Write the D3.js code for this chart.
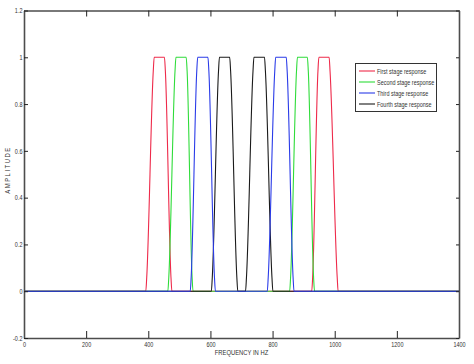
<!DOCTYPE html>
<html>
<head>
<meta charset="utf-8">
<script src="https://cdn.jsdelivr.net/npm/d3@7"></script>
<style>
  body { margin: 0; background: #fff; }
  svg { display: block; }
  text { font-family: "Liberation Sans", Arial, sans-serif; fill: #333; }
</style>
</head>
<body>
<svg width="474" height="364"></svg>
<script>
// frequency ticks and amplitude ticks
var xTicks = [0, 200, 400, 600, 800, 1000, 1200, 1400];
var yTicks = [-0.2, 0, 0.2, 0.4, 0.6, 0.8, 1, 1.2];

var seriesNames = ["First stage response", "Second stage response", "Third stage response", "Fourth stage response"];
var seriesColors = ["#ee2a4a", "#2fdc3a", "#2a3be8", "#1a1a1a"];

// [frequency, amplitude]
var stage1 = [[0,0],[392,0],[395,0.06],[416,0.94],[419,1],[452,1],[455,0.94],[473,0.06],[476,0],
              [926,0],[929,0.06],[946,0.94],[949,1],[982,1],[985,0.94],[1008,0.06],[1011,0],[1400,0]];
var stage2 = [[0,0],[463,0],[466,0.06],[486,0.94],[489,1],[522,1],[525,0.94],[541,0.06],[544,0],
              [855,0],[858,0.06],[877,0.94],[880,1],[912,1],[915,0.94],[932,0.06],[935,0],[1400,0]];
var stage3 = [[0,0],[535,0],[538,0.06],[556,0.94],[559,1],[592,1],[595,0.94],[613,0.06],[616,0],
              [783,0],[786,0.06],[807,0.94],[810,1],[844,1],[847,0.94],[866,0.06],[869,0],[1400,0]];
var stage4 = [[0,0],[603,0],[606,0.06],[626,0.94],[629,1],[662,1],[665,0.94],[685,0.06],[688,0],
              [713,0],[716,0.06],[737,0.94],[740,1],[774,1],[777,0.94],[798,0.06],[801,0],[1400,0]];

var stages = [stage1, stage2, stage3, stage4];
var drawOrder = [0, 1, 3, 2];

function main() {
    var svg = d3.select("svg");
    var left = 24, right = 459, plotTop = 10.5, bottom = 338;
    var squeeze = 0.78; // narrow text like the original

    var x = d3.scaleLinear().domain([0, 1400]).range([left, right]);
    var y = d3.scaleLinear().domain([-0.2, 1.2]).range([bottom, plotTop]);

    var line = d3.line()
        .x(function(d) { return x(d[0]); })
        .y(function(d) { return y(d[1]); })
        .curve(d3.curveMonotoneX);

    var g = svg.append("g");

    drawOrder.forEach(function(i) {
        g.append("path")
            .datum(stages[i])
            .attr("fill", "none")
            .attr("stroke", seriesColors[i])
            .attr("stroke-width", 1.1)
            .attr("d", line);
    });

    // axes, MATLAB style box with inward ticks
    var axisColor = "#4d4d4d";

    function styleAxis(sel) {
        sel.select(".domain").attr("stroke", axisColor).attr("stroke-width", 1.6);
        sel.selectAll(".tick line").attr("stroke", "#222").attr("stroke-width", 1);
        sel.selectAll("text").attr("font-size", "7px").attr("fill", "#333")
            .style("font-family", "'Liberation Sans', Arial, sans-serif");
    }

    svg.append("g")
        .attr("transform", "translate(0," + bottom + ")")
        .call(d3.axisBottom(x).tickValues(xTicks).tickSize(-7).tickSizeOuter(0).tickPadding(4).tickFormat(d3.format("d")))
        .call(styleAxis)
        .selectAll(".tick text")
        .attr("transform", "scale(" + squeeze + ",1)");

    svg.append("g")
        .attr("transform", "translate(0," + plotTop + ")")
        .call(d3.axisTop(x).tickValues(xTicks).tickSize(-6).tickSizeOuter(0).tickFormat(""))
        .call(styleAxis);

    svg.append("g")
        .attr("transform", "translate(" + left + ",0)")
        .call(d3.axisLeft(y).tickValues(yTicks).tickSize(-4).tickSizeOuter(0).tickPadding(2)
            .tickFormat(function(d) { return String(+d.toFixed(1)); }))
        .call(styleAxis)
        .selectAll(".tick text")
        .attr("transform", "scale(" + squeeze + ",1)");

    svg.append("g")
        .attr("transform", "translate(" + right + ",0)")
        .call(d3.axisRight(y).tickValues(yTicks).tickSize(-3).tickSizeOuter(0).tickFormat(""))
        .call(styleAxis);

    // axis titles
    svg.append("text")
        .attr("transform", "translate(" + ((left + right) / 2) + ",355) scale(" + squeeze + ",1)")
        .attr("text-anchor", "middle")
        .attr("font-size", "7.5px")
        .text("FREQUENCY IN HZ");

    svg.append("text")
        .attr("transform", "translate(10,170) rotate(-90) scale(" + squeeze + ",1)")
        .attr("text-anchor", "middle")
        .attr("font-size", "7.5px")
        .attr("letter-spacing", "2px")
        .text("AMPLITUDE");

    // legend
    var legend = svg.append("g");
    legend.append("rect")
        .attr("x", 355.5).attr("y", 63.5)
        .attr("width", 81).attr("height", 48)
        .attr("fill", "#fff")
        .attr("stroke", "#333")
        .attr("stroke-width", 1);

    seriesNames.forEach(function(name, i) {
        var ly = 71 + i * 11;
        legend.append("line")
            .attr("x1", 359).attr("x2", 375)
            .attr("y1", ly).attr("y2", ly)
            .attr("stroke", seriesColors[i])
            .attr("stroke-width", 1.1);
        legend.append("text")
            .attr("transform", "translate(377," + (ly + 2.5) + ") scale(" + squeeze + ",1)")
            .attr("font-size", "7px")
            .text(name);
    });
}

main();
</script>
</body>
</html>
